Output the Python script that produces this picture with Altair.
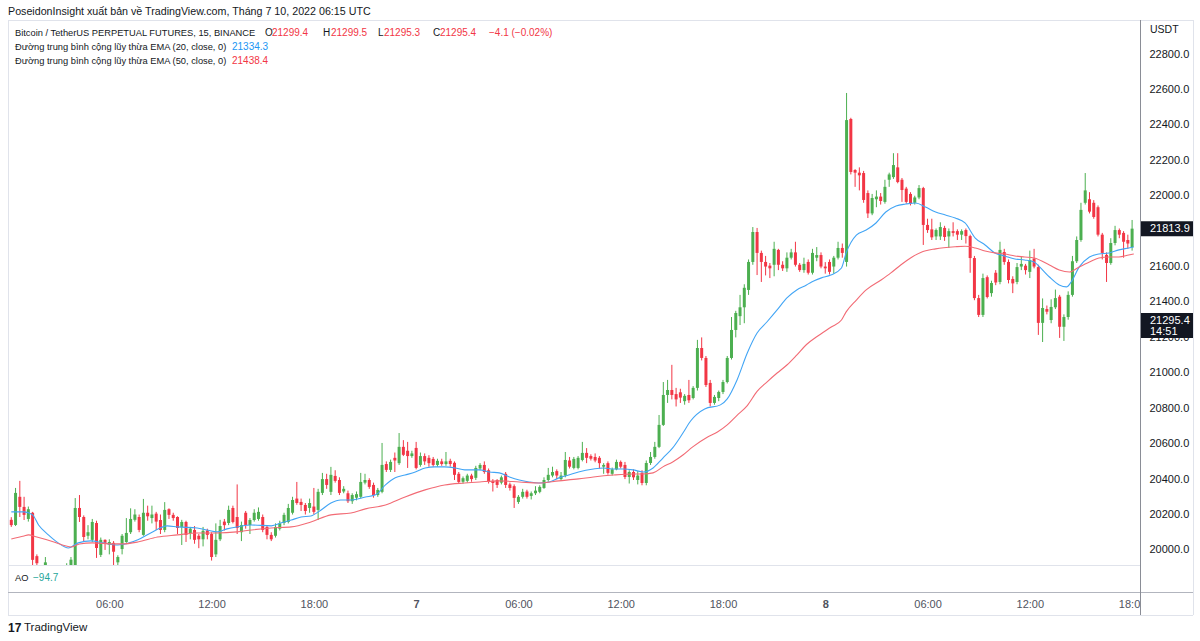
import altair as alt
import pandas as pd

# ---------------- data (15-minute candles, BTC/USDT perpetual) ----------------
opens = [
    20170, 20141, 20300, 20243, 20175, 20210, 19965, 19905, 19890, 19905,
    19895, 19880, 19870, 19895, 19905, 19880, 20237, 20186, 20080, 20057,
    20152, 19972, 20057, 20030, 20040, 19930, 20005, 20045, 20100, 20170,
    20186, 20085, 20210, 20180, 20205, 20169, 20113, 20230, 20198, 20186,
    20130, 20158, 20095, 20113, 20080, 20060, 20110, 20090, 19975, 20060,
    20160, 20152, 20237, 20186, 20100, 20210, 20141, 20169, 20175, 20186,
    20130, 20085, 20080, 20120, 20152, 20158, 20210, 20290, 20271, 20254,
    20237, 20245, 20226, 20322, 20400, 20328, 20418, 20395, 20330, 20320,
    20275, 20295, 20300, 20380, 20395, 20367, 20310, 20328, 20485, 20452,
    20520, 20490, 20582, 20560, 20530, 20576, 20480, 20530, 20520, 20514,
    20480, 20500, 20485, 20503, 20492, 20430, 20385, 20390, 20420, 20407,
    20460, 20480, 20450, 20390, 20395, 20380, 20430, 20370, 20360, 20271,
    20300, 20330, 20305, 20320, 20328, 20350, 20395, 20420, 20445, 20400,
    20420, 20505, 20463, 20463, 20508, 20548, 20530, 20525, 20520, 20470,
    20490, 20430, 20455, 20497, 20480, 20412, 20440, 20395, 20435, 20378,
    20491, 20525, 20582, 20706, 20875, 20903, 20880, 20890, 20840, 20875,
    20858, 20915, 21140, 21084, 20943, 20830, 20858, 20892, 20948, 21084,
    21242, 21320, 21370, 21468, 21626, 21795, 21677, 21626, 21605, 21610,
    21694, 21610, 21590, 21650, 21680, 21610, 21580, 21626, 21565, 21650,
    21665, 21600, 21626, 21600, 21650, 21705, 21626, 22433, 22145, 22130,
    22128, 22015, 21900, 21980, 21995, 21965, 22090, 22105, 22160, 22090,
    22040, 22010, 21960, 21990, 22043, 21835, 21810, 21770, 21770, 21818,
    21770, 21800, 21800, 21780, 21806, 21772, 21648, 21422, 21327, 21540,
    21450, 21565, 21513, 21682, 21626, 21530, 21513, 21600, 21605, 21570,
    21645, 21597, 21282, 21360, 21298, 21370, 21430, 21260, 21315, 21440,
    21630, 21750, 21960, 21980, 21960, 21935, 21780, 21666, 21620, 21733,
    21806, 21790, 21750, 21710,
]
highs = [
    20185, 20350, 20390, 20300, 20245, 20215, 19975, 19912, 19960, 19912,
    19910, 19905, 19910, 19925, 19960, 20293, 20310, 20195, 20140, 20175,
    20165, 20070, 20060, 20060, 20050, 19970, 20090, 20180, 20235, 20230,
    20200, 20288, 20250, 20250, 20215, 20200, 20270, 20235, 20210, 20190,
    20170, 20165, 20130, 20135, 20090, 20130, 20120, 20100, 20150, 20170,
    20175, 20250, 20250, 20370, 20160, 20220, 20180, 20230, 20240, 20200,
    20140, 20100, 20150, 20165, 20210, 20260, 20300, 20384, 20290, 20265,
    20290, 20350, 20345, 20435, 20430, 20469, 20450, 20410, 20360, 20335,
    20320, 20330, 20435, 20430, 20405, 20380, 20350, 20604, 20500, 20510,
    20550, 20660, 20620, 20610, 20560, 20610, 20550, 20545, 20535, 20525,
    20515, 20515, 20553, 20515, 20500, 20440, 20415, 20430, 20430, 20475,
    20490, 20500, 20460, 20400, 20400, 20420, 20440, 20380, 20370, 20310,
    20345, 20340, 20330, 20360, 20365, 20410, 20463, 20470, 20455, 20440,
    20553, 20525, 20525, 20530, 20610, 20575, 20540, 20545, 20530, 20490,
    20500, 20465, 20510, 20505, 20497, 20450, 20455, 20445, 20450, 20505,
    20553, 20610, 20762, 20948, 20960, 21045, 20915, 20910, 20880, 20960,
    20925, 21186, 21200, 21095, 20960, 20875, 20900, 20960, 21095, 21315,
    21350, 21440, 21500, 21640, 21823, 21818, 21690, 21660, 21620, 21740,
    21700, 21630, 21680, 21700, 21740, 21620, 21650, 21640, 21700, 21710,
    21680, 21625, 21640, 21660, 21740, 21730, 22580, 22440, 22150, 22160,
    22140, 22030, 22010, 22030, 22015, 22090, 22130, 22240, 22240, 22100,
    22050, 22020, 22000, 22060, 22050, 21870, 21870, 21815, 21850, 21830,
    21815, 21850, 21810, 21810, 21815, 21780, 21660, 21440, 21560, 21550,
    21520, 21580, 21740, 21700, 21640, 21545, 21620, 21655, 21615, 21690,
    21700, 21610, 21420, 21380, 21415, 21470, 21440, 21330, 21460, 21660,
    21770, 21960, 22128, 22020, 21975, 21945, 21790, 21680, 21760, 21830,
    21815, 21800, 21780, 21863,
]
lows = [
    20130, 20135, 20186, 20169, 20160, 19910, 19890, 19860, 19880, 19870,
    19860, 19850, 19850, 19880, 19895, 19860, 20158, 20045, 20060, 20045,
    19955, 19960, 20000, 19975, 19915, 19915, 19975, 20040, 20090, 20160,
    20100, 20080, 20165, 20150, 20113, 20090, 20100, 20175, 20165, 20090,
    20028, 20045, 20060, 20035, 20010, 20020, 20060, 19940, 19960, 20050,
    20110, 20140, 20150, 20090, 20050, 20120, 20090, 20160, 20165, 20100,
    20060, 20050, 20070, 20110, 20140, 20150, 20200, 20255, 20220, 20200,
    20210, 20200, 20169, 20310, 20345, 20310, 20380, 20310, 20320, 20265,
    20260, 20280, 20290, 20370, 20345, 20295, 20300, 20320, 20440, 20440,
    20440, 20480, 20530, 20463, 20520, 20455, 20470, 20480, 20470, 20470,
    20470, 20475, 20475, 20470, 20395, 20375, 20375, 20380, 20385, 20395,
    20450, 20430, 20375, 20330, 20350, 20370, 20350, 20335, 20237, 20260,
    20290, 20290, 20285, 20310, 20320, 20345, 20385, 20410, 20400, 20390,
    20410, 20460, 20455, 20455, 20500, 20490, 20505, 20495, 20460, 20430,
    20425, 20420, 20450, 20460, 20400, 20375, 20395, 20370, 20365, 20365,
    20480, 20515, 20575, 20700, 20830, 20850, 20810, 20830, 20820, 20830,
    20850, 20900, 21070, 20920, 20810, 20820, 20840, 20880, 20940, 21075,
    21200, 21270, 21280, 21440, 21610, 21552, 21513, 21550, 21535, 21545,
    21580, 21575, 21570, 21640, 21600, 21570, 21565, 21555, 21555, 21630,
    21590, 21560, 21555, 21560, 21640, 21650, 21600, 22120, 22050, 22030,
    21960, 21874, 21890, 21935, 21950, 21955, 22050, 22095, 22070, 21965,
    21955, 21945, 21950, 21980, 21722, 21790, 21750, 21750, 21750, 21745,
    21705, 21770, 21750, 21750, 21730, 21565, 21410, 21315, 21315, 21420,
    21430, 21495, 21500, 21610, 21505, 21450, 21500, 21580, 21555, 21535,
    21590, 21214, 21174, 21330, 21280, 21360, 21197, 21180, 21300, 21430,
    21620, 21740, 21950, 21900, 21870, 21770, 21640, 21513, 21610, 21720,
    21760, 21650, 21700, 21690,
]
closes = [
    20140, 20322, 20243, 20198, 20230, 19944, 19925, 19880, 19930, 19895,
    19880, 19870, 19900, 19910, 19945, 20237, 20186, 20073, 20100, 20158,
    20011, 20057, 20040, 20045, 19990, 19960, 20080, 20096, 20175, 20200,
    20113, 20210, 20190, 20200, 20160, 20113, 20226, 20198, 20180, 20124,
    20158, 20085, 20120, 20057, 20060, 20108, 20085, 19960, 20057, 20135,
    20140, 20226, 20158, 20124, 20140, 20141, 20169, 20210, 20215, 20113,
    20085, 20060, 20130, 20150, 20198, 20237, 20282, 20265, 20254, 20220,
    20265, 20215, 20328, 20400, 20367, 20424, 20390, 20322, 20345, 20275,
    20310, 20315, 20384, 20395, 20356, 20310, 20339, 20480, 20452, 20497,
    20505, 20582, 20537, 20530, 20545, 20463, 20530, 20500, 20490, 20480,
    20503, 20485, 20500, 20485, 20424, 20384, 20405, 20420, 20400, 20463,
    20480, 20440, 20384, 20378, 20367, 20410, 20367, 20350, 20294, 20300,
    20328, 20300, 20320, 20335, 20356, 20395, 20424, 20440, 20420, 20420,
    20508, 20470, 20514, 20520, 20548, 20520, 20515, 20505, 20490, 20480,
    20435, 20455, 20497, 20470, 20412, 20440, 20410, 20420, 20378, 20491,
    20525, 20582, 20706, 20875, 20903, 20875, 20850, 20860, 20870, 20845,
    20915, 21140, 21084, 20931, 20830, 20864, 20892, 20948, 21084, 21242,
    21338, 21370, 21480, 21626, 21795, 21677, 21626, 21600, 21590, 21700,
    21610, 21590, 21650, 21680, 21610, 21580, 21615, 21565, 21677, 21665,
    21600, 21590, 21570, 21650, 21705, 21677, 22427, 22134, 22130, 22115,
    21976, 21900, 21987, 21995, 21970, 22050, 22120, 22173, 22077, 22032,
    21965, 21955, 21990, 22043, 21835, 21806, 21765, 21806, 21823, 21767,
    21800, 21790, 21780, 21800, 21772, 21648, 21422, 21327, 21535, 21428,
    21507, 21510, 21694, 21626, 21524, 21505, 21597, 21615, 21580, 21637,
    21600, 21282, 21366, 21345, 21372, 21422, 21260, 21315, 21440, 21630,
    21750, 21920, 22030, 21910, 21880, 21780, 21677, 21620, 21733, 21806,
    21780, 21740, 21730, 21814,
]

# EMA lines (position in bars from the first candle, value)
ema20_pos = [0, 3, 5, 6.4, 8.7, 11, 13.4, 15.7, 18.7, 21.5, 25, 29.7, 32.7, 36.6, 39,
             43.6, 45.9, 48.3, 50.6, 52.9, 56.4, 61, 63.4, 65.7, 68, 70.3, 72.7, 75, 77.3,
             79.7, 83.1, 85.5, 87.8, 90.1, 92.4, 94.8, 97.1, 99.4, 101.7, 104.1, 106.4,
             109.9, 112.2, 114.5, 116.9, 119.2, 121.5, 123.8, 126.2, 128.5, 130.8, 133.1,
             136.6, 139, 141.3, 143.6, 145.9, 148.3, 150.6, 152.9, 155.2, 157.6, 159.4,
             162.7, 166.4, 168, 170.3, 172.7, 175, 177.3, 179.7, 182, 184.3, 186.6, 187.8,
             190.1, 192.3, 194.8, 195.9, 198.3, 200.6, 202.9, 205.2, 207.6, 209.9, 212.2,
             214.5, 216.9, 219.2, 221.5, 223.8, 226.2, 228.5, 230.8, 233.1, 235.5, 237.8,
             240, 241.3, 243.6, 245.9, 247.6, 248.7, 250.6, 253, 255.2, 257.6, 259.9,
             262.2, 263.4]
ema20_val = [20215, 20215, 20198, 20141, 20085, 20040, 20011, 20040, 20051, 20040,
             20028, 20057, 20096, 20136, 20130, 20124, 20113, 20102, 20119, 20130,
             20141, 20136, 20153, 20169, 20186, 20192, 20226, 20265, 20282, 20282,
             20299, 20311, 20367, 20407, 20423, 20440, 20463, 20469, 20469, 20463,
             20452, 20452, 20440, 20435, 20412, 20395, 20384, 20378, 20384, 20407,
             20423, 20440, 20457, 20463, 20457, 20457, 20452, 20440, 20463, 20519,
             20576, 20660, 20728, 20796, 20819, 20853, 20960, 21112, 21225, 21287,
             21355, 21423, 21468, 21496, 21513, 21536, 21552, 21592, 21677, 21778,
             21806, 21846, 21908, 21942, 21953, 21959, 21936, 21908, 21891, 21874,
             21846, 21761, 21722, 21677, 21660, 21643, 21637, 21626, 21598, 21541,
             21496, 21485, 21513, 21598, 21654, 21671, 21677, 21694, 21705, 21711]

ema50_pos = [0, 3, 4, 6, 10, 12, 14, 16, 19, 24, 26, 29.7, 34.3, 39, 43.6, 48.3, 52.9,
             56.4, 61, 65.7, 70.3, 75, 79.7, 83.1, 87.8, 92.4, 97.1, 101.7, 106.4, 109.9,
             114.5, 119.2, 123.8, 128.5, 133.1, 136.6, 141.3, 145.9, 148.3, 150.6, 152.9,
             155.2, 157.6, 159.9, 163.4, 165.7, 168, 170.3, 172.7, 175, 177.3, 179.7, 182,
             184.3, 186.6, 188.9, 192.4, 194.8, 195.9, 198.3, 200.6, 204.1, 206.4, 208.7,
             211.1, 213.4, 216.9, 221.5, 223.8, 226.2, 228.5, 230.8, 233.1, 235.5, 237.8,
             240, 243.6, 245.9, 248.3, 250.6, 253, 255.2, 257.6, 259.9, 262.2, 263.4]
ema50_val = [20062, 20079, 20085, 20073, 20045, 20028, 20017, 20034, 20040, 20034,
             20034, 20045, 20073, 20085, 20096, 20096, 20102, 20113, 20124, 20130,
             20158, 20198, 20209, 20232, 20254, 20299, 20339, 20367, 20378, 20384,
             20390, 20384, 20378, 20390, 20401, 20412, 20423, 20429, 20429, 20435,
             20469, 20497, 20536, 20582, 20638, 20666, 20706, 20760, 20815, 20895,
             20948, 20999, 21044, 21100, 21160, 21202, 21259, 21298, 21344, 21411,
             21468, 21524, 21564, 21609, 21650, 21680, 21700, 21712, 21715, 21705,
             21688, 21677, 21671, 21660, 21654, 21648, 21609, 21581, 21569, 21598,
             21626, 21648, 21654, 21654, 21665, 21671]

price_ticks = [20000 + 200 * i for i in range(15)]
last_visible_close = 21813.9
last_price = 21295.4

# ---------------- helpers ----------------
T0 = pd.Timestamp("2022-07-06 00:15:00", tz="UTC")
BAR_MS = 15 * 60 * 1000
t0_ms = int(T0.value // 10**6)


def bar_time(i):
    return t0_ms + i * BAR_MS


candles = pd.DataFrame({
    "t": [bar_time(i) for i in range(len(opens))],
    "o": opens, "h": highs, "l": lows, "c": closes,
})
ema20 = pd.DataFrame({"t": [bar_time(p) for p in ema20_pos], "v": ema20_val})
ema50 = pd.DataFrame({"t": [bar_time(p) for p in ema50_pos], "v": ema50_val})

GREEN = "#4caf50"
RED = "#f23645"
TXT = "#131722"
W, H = 1132, 545
FONT = "Liberation Sans"
LEG = 9.3   # legend label font size
NUM = 10.0  # legend value font size

xscale = alt.Scale(type="utc", domain=[bar_time(0.4), bar_time(263.68)], nice=False)
tick_times = [pd.Timestamp(s, tz="UTC") for s in [
    "2022-07-06 06:00", "2022-07-06 12:00", "2022-07-06 18:00", "2022-07-07 00:00",
    "2022-07-07 06:00", "2022-07-07 12:00", "2022-07-07 18:00", "2022-07-08 00:00",
    "2022-07-08 06:00", "2022-07-08 12:00", "2022-07-08 18:00"]]
xaxis = alt.Axis(
    orient="bottom", offset=27, values=[int(t.value // 10**6) for t in tick_times],
    labelExpr="utchours(datum.value) == 0 ? utcFormat(datum.value, '%-d') : utcFormat(datum.value, '%H:%M')",
    labelFontWeight={"condition": {"test": "utchours(datum.value) == 0", "value": "bold"}, "value": "normal"},
    domain=False, ticks=False, grid=False, labelFontSize=11, labelColor="#50535e",
    labelPadding=6, labelFlush=False, labelOverlap=False, zindex=0, title=None,
)
yscale = alt.Scale(domain=[19915, 22992], nice=False, zero=False)
yaxis = alt.Axis(
    orient="right", values=price_ticks, format=".1f", domain=False, ticks=False, grid=False,
    labelFontSize=11, labelColor=TXT, labelPadding=9, labelOverlap=False, zindex=0, title=None,
)


def X():
    return alt.X("t:Q", type="temporal", scale=xscale, axis=xaxis, title=None)


def Y(field):
    return alt.Y(f"{field}:Q", scale=yscale, axis=yaxis, title=None)


one = pd.DataFrame({"a": [0]})


def text(s, x, y, color=TXT, size=LEG, weight="normal", align="left"):
    return alt.Chart(one).mark_text(
        text=s, align=align, baseline="middle", fontSize=size, fontWeight=weight,
        color=color, font=FONT,
    ).encode(x=alt.value(x), y=alt.value(y))


def hline(x1, x2, y, color, w=1):
    return alt.Chart(one).mark_rule(color=color, strokeWidth=w).encode(
        x=alt.value(x1), x2=alt.value(x2), y=alt.value(y))


def vline(x, y1, y2, color, w=1):
    return alt.Chart(one).mark_rule(color=color, strokeWidth=w).encode(
        x=alt.value(x), y=alt.value(y1), y2=alt.value(y2))


up = alt.condition("datum.c >= datum.o", alt.value(GREEN), alt.value(RED))

wicks = alt.Chart(candles).mark_rule(strokeWidth=1, clip=True).encode(
    x=X(), y=Y("l"), y2="h:Q", color=up)
bodies = alt.Chart(candles).mark_bar(size=3, clip=True).encode(
    x=X(), y=Y("o"), y2="c:Q", color=up)
line20 = alt.Chart(ema20).mark_line(color="#42a5f5", strokeWidth=1.1, clip=True,
                                    interpolate="monotone").encode(x=X(), y=Y("v"))
line50 = alt.Chart(ema50).mark_line(color="#f26b75", strokeWidth=1.1, clip=True,
                                    interpolate="monotone").encode(x=X(), y=Y("v"))

box_df1 = pd.DataFrame({"p": [last_visible_close], "s": [f"{last_visible_close:.1f}"]})
box_df2 = pd.DataFrame({"p": [last_price], "s": [f"{last_price:.1f}"], "cd": ["14:51"]})
box1 = alt.Chart(box_df1).mark_rule(color=TXT, strokeWidth=15).encode(
    x=alt.value(1133), x2=alt.value(1185), y=Y("p"))
box1t = alt.Chart(box_df1).mark_text(align="left", baseline="middle", color="white",
                                     fontSize=11, font=FONT).encode(
    x=alt.value(1142), y=Y("p"), text="s:N")
box2 = alt.Chart(box_df2).mark_rule(color=TXT, strokeWidth=25, yOffset=5).encode(
    x=alt.value(1133), x2=alt.value(1185), y=Y("p"))
box2t = alt.Chart(box_df2).mark_text(align="left", baseline="middle", color="white",
                                     fontSize=11, font=FONT).encode(
    x=alt.value(1142), y=Y("p"), text="s:N")
box2c = alt.Chart(box_df2).mark_text(align="left", baseline="middle", color="white",
                                     fontSize=11, font=FONT, dy=11).encode(
    x=alt.value(1142), y=Y("p"), text="cd:N")

FRAME = "#e0e3eb"
layers = [
    wicks, bodies, line20, line50,
    # frame & separators
    hline(0, 1185, 0.5, FRAME), hline(0, 1185, 595.5, FRAME), vline(0.5, 0, 595, FRAME),
    vline(1185.5, 0, 595, FRAME), hline(0, 1132, 545.5, FRAME),
    # cover for the clipped last time label
    alt.Chart(one).mark_rect(color="white").encode(
        x=alt.value(1133), x2=alt.value(1184), y=alt.value(574), y2=alt.value(594)),
    hline(0, 1185, 572.5, "#b2b5be"),
    vline(1132.5, 0, 595, "#8a8d96"),
    box1, box1t, box2, box2t, box2c,
    # header & legend
    text("PoseidonInsight xuất bản về TradingView.com, Tháng 7 10, 2022 06:15 UTC", 0, -8,
         size=10.7),
    text("Bitcoin / TetherUS PERPETUAL FUTURES, 15, BINANCE", 7, 13),
    text("O", 257, 13, size=NUM), text("21299.4", 264, 13, RED, NUM),
    text("H", 315, 13, size=NUM), text("21299.5", 323, 13, RED, NUM),
    text("L", 370, 13, size=NUM), text("21295.3", 376, 13, RED, NUM),
    text("C", 425, 13, size=NUM), text("21295.4", 432, 13, RED, NUM),
    text("−4.1 (−0.02%)", 481, 13, RED, NUM),
    text("Đường trung bình cộng lũy thừa EMA (20, close, 0)", 7, 27),
    text("21334.3", 224, 27, "#2196f3", NUM),
    text("Đường trung bình cộng lũy thừa EMA (50, close, 0)", 7, 41),
    text("21438.4", 224, 41, RED, NUM),
    text("USDT", 1142, 10, size=10.5),
    text("AO", 7, 558), text("−94.7", 25, 558, "#26a69a", NUM),
    text("17", 0, 608, TXT, 12, "bold"),
    text("TradingView", 16, 608, TXT, 11.5),
]

chart = alt.layer(*layers).properties(
    width=W, height=H,
    autosize=alt.AutoSizeParams(type="none"),
    padding={"left": 8, "top": 20, "right": 60, "bottom": 76},
    background="white",
).configure_view(stroke=None).configure(font=FONT)

chart.save("out.html", embed_options={"renderer": "svg", "actions": False})
